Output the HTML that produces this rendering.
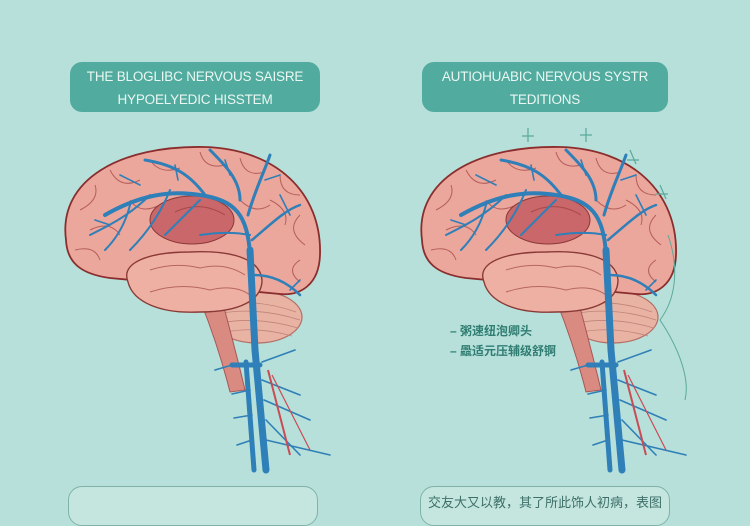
<!DOCTYPE html>
<html><head><meta charset="utf-8"><style>
html,body{margin:0;padding:0;width:750px;height:500px;overflow:hidden;background:#b6e0d9}
.box{position:absolute;background:#52ab9f;border-radius:12px;color:#eaf7f2;font-family:"Liberation Sans",sans-serif;font-size:13.5px;letter-spacing:-0.2px;text-align:center;line-height:23px;padding-top:3px;box-sizing:border-box}
.bot{position:absolute;border:1.5px solid #7fb3aa;border-radius:14px;background:#c4e6df;height:40px;top:486px;box-sizing:border-box;font-family:"Liberation Sans","Noto Sans CJK SC",sans-serif;font-size:13px;color:#3d6f68;text-align:center;padding-top:5px}
.lbl{position:absolute;font-family:"Liberation Sans","Noto Sans CJK SC",sans-serif;font-size:12px;color:#2f7d72;font-weight:bold}
</style></head><body>
<div class="box" style="left:70px;top:62px;width:250px;height:50px">THE BLOGLIBC NERVOUS SAISRE<br>HYPOELYEDIC HISSTEM</div>
<div class="box" style="left:422px;top:62px;width:246px;height:50px">AUTIOHUABIC NERVOUS SYSTR<br>TEDITIONS</div>
<svg width="750" height="500" style="position:absolute;left:0;top:0">
<defs>
<g id="brain">
 <ellipse cx="257" cy="317" rx="45" ry="26" fill="#e8b3a3" stroke="#b36e66" stroke-width="1.2"/>
 <g stroke="#c0837a" stroke-width="0.8" fill="none">
  <path d="M218,305 Q257,298 296,312"/><path d="M216,314 Q257,306 300,320"/><path d="M220,323 Q257,316 298,328"/><path d="M226,332 Q257,326 292,336"/>
 </g>
 <path d="M200,300 C212,330 222,360 230,392 L245,390 C238,360 230,330 222,300 Z" fill="#d98b82" stroke="#a55" stroke-width="1"/>
 <path d="M66,240 C58,180 120,145 205,147 C275,149 322,192 320,255 C319,285 300,296 280,294 L110,278 C80,274 67,262 66,240 Z" fill="#eca79c" stroke="#8a2d2d" stroke-width="1.8"/>
 <g stroke="#b35f5a" stroke-width="1" fill="none">
  <path d="M80,210 Q100,200 95,185 M110,170 Q120,190 140,180 M150,160 Q160,175 180,168 M200,152 Q205,170 225,165 M240,158 Q245,178 265,172 M280,175 Q280,195 300,195 M300,215 Q285,230 305,245 M75,250 Q95,245 100,260 M90,230 Q110,220 120,235 M270,200 Q290,210 285,225 M300,260 Q285,270 300,282 M130,200 Q140,215 160,205 M240,200 Q255,215 270,205"/>
 </g>
 <ellipse cx="192" cy="220" rx="42" ry="24" fill="#c9676a" stroke="#8a3838" stroke-width="1"/>
 <path d="M175,212 Q200,200 225,215" stroke="#a84848" fill="none"/>
 <path d="M128,282 C120,262 150,252 190,252 C230,250 260,258 262,280 C262,300 240,312 200,312 C160,314 133,302 128,282 Z" fill="#efb0a4" stroke="#8a3a36" stroke-width="1.4"/>
 <g stroke="#b56660" stroke-width="1" fill="none"><path d="M150,270 Q175,262 200,268 Q225,262 245,275 M150,292 Q180,282 210,290 Q235,284 250,295"/></g>
 <g stroke="#2f7fb8" fill="none" stroke-linecap="round">
  <path d="M250,250 L255,350 L266,470" stroke-width="7"/>
  <path d="M246,362 L254,470" stroke-width="5"/>
  <path d="M232,365 L260,365" stroke-width="5"/>
  <path d="M250,255 C248,215 235,200 200,195 C170,190 140,195 105,215" stroke-width="4"/>
  <path d="M205,195 C190,175 175,165 145,160" stroke-width="3"/>
  <path d="M240,200 C240,180 225,165 210,150" stroke-width="3"/>
  <path d="M248,215 C255,190 265,170 270,155" stroke-width="3"/>
  <path d="M252,240 C270,225 285,210 300,205" stroke-width="2.5"/>
  <path d="M254,275 C275,275 290,285 300,295" stroke-width="2.5"/>
  <path d="M150,195 C130,215 110,225 90,235 M130,205 C125,225 115,240 105,250 M170,190 C160,215 145,235 130,250 M200,200 C185,215 175,225 165,235 M250,235 C235,232 220,232 200,235" stroke-width="2"/>
  <path d="M120,175 L140,185 M175,165 L178,180 M225,160 L230,175 M265,180 L280,175 M280,195 L290,215 M110,225 L95,220 M290,290 L300,280 M232,365 L215,370 M262,362 L295,350 M262,380 L300,395 M264,400 L310,420 M266,420 L300,455 M250,390 L232,394 M252,415 L234,418 M252,440 L237,445 M266,440 L330,455" stroke-width="1.6"/>
 </g>
 <path d="M268,370 L290,455" stroke="#c94b55" stroke-width="2" fill="none"/>
 <path d="M272,375 L310,450" stroke="#c94b55" stroke-width="1.2" fill="none"/>
</g>
</defs>
<use href="#brain"/>
<use href="#brain" transform="translate(356,0)"/>
<g stroke="#5aa99a" stroke-width="1.2" fill="none">
 <path d="M528,128 v14 M522,136 h12 M586,128 v14 M580,135 h12 M630,150 l6 14 M627,160 h12 M660,185 l6 14 M656,194 h12"/>
 <path d="M668,235 C680,270 675,300 660,320 C680,350 690,380 685,400" stroke-width="1"/>
</g>
</svg>
<div class="lbl" style="left:450px;top:322px">– 粥速纽泡卿头</div>
<div class="lbl" style="left:450px;top:342px">– 飍适元压辅级舒锕</div>
<div class="bot" style="left:68px;width:250px"></div>
<div class="bot" style="left:420px;width:250px">交友大又以教，其了所此饰人初病，表图</div>
</body></html>
